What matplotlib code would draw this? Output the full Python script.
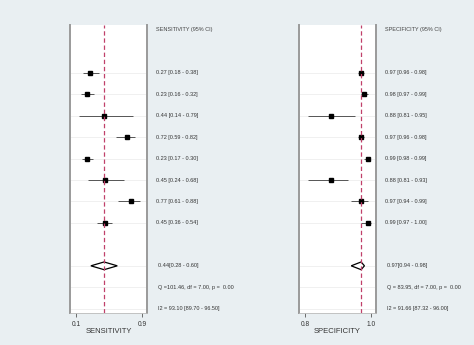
import matplotlib
matplotlib.use('Agg')
import matplotlib.pyplot as plt

plt.rcParams['font.family'] = ['Liberation Sans', 'DejaVu Sans']

# study estimates
sens = [0.27, 0.23, 0.44, 0.72, 0.23, 0.45, 0.77, 0.45]
sens_lo = [0.18, 0.16, 0.14, 0.59, 0.17, 0.24, 0.61, 0.36]
sens_hi = [0.38, 0.32, 0.79, 0.82, 0.30, 0.68, 0.88, 0.54]
sens_pool = (0.44, 0.28, 0.60)
sens_q = 'Q =101.46, df = 7.00, p =  0.00'
sens_i2 = 'I2 = 93.10 [89.70 - 96.50]'

spec = [0.97, 0.98, 0.88, 0.97, 0.99, 0.88, 0.97, 0.99]
spec_lo = [0.96, 0.97, 0.81, 0.96, 0.98, 0.81, 0.94, 0.97]
spec_hi = [0.98, 0.99, 0.95, 0.98, 0.99, 0.93, 0.99, 1.00]
spec_pool = (0.97, 0.94, 0.98)
spec_q = 'Q = 83.95, df = 7.00, p =  0.00'
spec_i2 = 'I2 = 91.66 [87.32 - 96.00]'

bg = '#e9eff2'
fig = plt.figure(figsize=(4.74, 3.45), dpi=100, facecolor=bg)


def forest(rect, est, lo, hi, pool, qtxt, i2txt, name, xlim, ticks, ticklabels):
    ax = fig.add_axes(rect)
    ax.set_facecolor('white')
    rows = list(range(2, 2 + len(est)))
    k_pool, k_q, k_i2 = rows[-1] + 2, rows[-1] + 3, rows[-1] + 4
    for k in rows + [k_pool, k_q, k_i2]:
        ax.axhline(k, color='#eeeeee', lw=0.6, zorder=0)
    ax.hlines(rows, lo, hi, color='#555555', lw=0.7, zorder=2)
    ax.plot(est, rows, 's', color='black', ms=3.4, zorder=3)
    p, plo, phi = pool
    h = 0.18
    ax.fill([plo, p, phi, p, plo], [k_pool, k_pool - h, k_pool, k_pool + h, k_pool],
            facecolor='white', edgecolor='black', lw=0.9, zorder=3)
    ax.axvline(p, color='#c0406a', lw=0.9, ls=(0, (3.5, 2.2)), zorder=4)

    tx = 1.115
    tr = ax.get_yaxis_transform()
    ax.text(tx, 0, name + ' (95% CI)', transform=tr,
            fontsize=4, color='#444444', va='center', clip_on=False)
    for k, e, a, b in zip(rows, est, lo, hi):
        ax.text(tx, k, f'{e:.2f} [{a:.2f} - {b:.2f}]', transform=tr,
                fontsize=4, color='#333333', va='center', clip_on=False)
    ax.text(tx + 0.03, k_pool, f'{p:.2f}[{plo:.2f} - {phi:.2f}]', transform=tr,
            fontsize=4, color='#333333', va='center', clip_on=False)
    ax.text(tx + 0.03, k_q, qtxt, transform=tr,
            fontsize=4, color='#333333', va='center', clip_on=False)
    ax.text(tx + 0.03, k_i2, i2txt, transform=tr,
            fontsize=4, color='#333333', va='center', clip_on=False)

    ax.set_xlim(xlim)
    ax.set_ylim(13.2, -0.23)
    ax.set_yticks([])
    ax.set_xticks(ticks)
    ax.set_xticklabels(ticklabels)
    ax.tick_params(axis='x', length=3, width=0.6, color='#555555', labelsize=4.8,
                   labelcolor='#333333', pad=2.5)
    ax.set_xlabel(name, fontsize=5.5, color='#333333', labelpad=0)
    ax.spines['top'].set_visible(False)
    for s in ('left', 'right'):
        ax.spines[s].set_color('#9a9a9a')
        ax.spines[s].set_linewidth(1.4)
    ax.spines['bottom'].set_color('#bbbbbb')
    ax.spines['bottom'].set_linewidth(0.6)
    return ax


forest([70 / 474, 1 - 313 / 345, 77 / 474, 288 / 345], sens, sens_lo, sens_hi, sens_pool,
       sens_q, sens_i2, 'SENSITIVITY', (0.027, 0.96), [0.1, 0.9], ['0.1', '0.9'])
forest([299 / 474, 1 - 313 / 345, 77 / 474, 288 / 345], spec, spec_lo, spec_hi, spec_pool,
       spec_q, spec_i2, 'SPECIFICITY', (0.782, 1.015), [0.8, 1.0], ['0.8', '1.0'])

fig.savefig('out.png', dpi=100, facecolor=bg)
